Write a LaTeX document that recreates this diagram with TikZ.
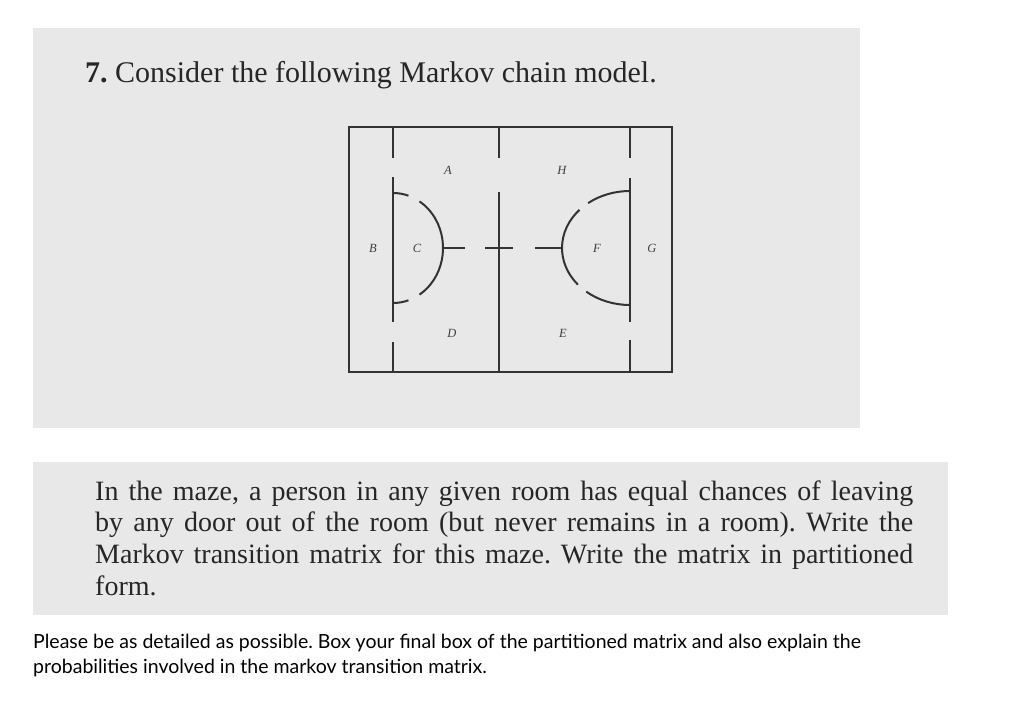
\documentclass[tikz,border=0pt]{standalone}
\usepackage{fontspec}
\setmainfont{Liberation Serif}
\newfontfamily\uisans{Lato}
\frenchspacing
\begin{document}
\begin{tikzpicture}[x=1pt,y=-1pt,
  wall/.style={line width=2pt,color=black!80},
  lab/.style={font=\fontsize{12.5}{14}\selectfont\itshape,text=black!75,inner sep=0pt},
  para/.style={anchor=base west,inner sep=0pt,font=\fontsize{28}{32}\selectfont,text=black!85}]
\useasboundingbox (0,0) rectangle (1024,704);
\fill[white] (0,0) rectangle (1024,704);
\fill[black!9] (33,28) rectangle (860,428);
\fill[black!9] (33,462) rectangle (948,615);
\node[para,font=\fontsize{30}{34}\selectfont] (title) at (85,82) {\textbf{7.} Consider the following Markov chain model.};
% maze
\draw[wall] (349,127) rectangle (672,372);
\draw[wall] (393,127) -- (393,158);
\draw[wall] (393,177) -- (393,322);
\draw[wall] (393,342) -- (393,372);
\draw[wall] (499,127) -- (499,158);
\draw[wall] (499,192) -- (499,372);
\draw[wall] (630,127) -- (630,158);
\draw[wall] (630,178) -- (630,322);
\draw[wall] (630,340) -- (630,372);
% left arc
\draw[wall] (393,248) ++(90:50 and 55) arc[start angle=90,end angle=72,x radius=50,y radius=55];
\draw[wall] (393,248) ++(58:50 and 55) arc[start angle=58,end angle=-58,x radius=50,y radius=55];
\draw[wall] (393,248) ++(-72:50 and 55) arc[start angle=-72,end angle=-90,x radius=50,y radius=55];
% right arc
\draw[wall] (630,248) ++(90:68 and 57) arc[start angle=90,end angle=130,x radius=68,y radius=57];
\draw[wall] (630,248) ++(140:68 and 57) arc[start angle=140,end angle=222,x radius=68,y radius=57];
\draw[wall] (630,248) ++(232:68 and 57) arc[start angle=232,end angle=270,x radius=68,y radius=57];
\draw[wall] (443,248) -- (465,248);
\draw[wall] (485,248) -- (513,248);
\draw[wall] (535,248) -- (562,248);
\node[lab] (A) at (448,170) {A};
\node[lab] (H) at (562,170) {H};
\node[lab] (B) at (373,248) {B};
\node[lab] (C) at (417,248) {C};
\node[lab] (F) at (597,248) {F};
\node[lab] (G) at (652,248) {G};
\node[lab] (D) at (452,333) {D};
\node[lab] (E) at (563,333) {E};
% paragraph
\node[para] (p1) at (95,500) {\makebox[818pt][s]{In the maze, a person in any given room has equal chances of leaving}};
\node[para] (p2) at (95,531) {\makebox[818pt][s]{by any door out of the room (but never remains in a room). Write the}};
\node[para] (p3) at (95,563) {\makebox[818pt][s]{Markov transition matrix for this maze. Write the matrix in partitioned}};
\node[para] (p4) at (95,595) {form.};
\node[anchor=base west,inner sep=0pt,font=\uisans\fontsize{19.5}{22}\selectfont] (q1) at (33,648) {Please be as detailed as possible. Box your final box of the partitioned matrix and also explain the};
\node[anchor=base west,inner sep=0pt,font=\uisans\fontsize{19.5}{22}\selectfont] (q2) at (33,673) {probabilities involved in the markov transition matrix.};
\end{tikzpicture}
\end{document}
